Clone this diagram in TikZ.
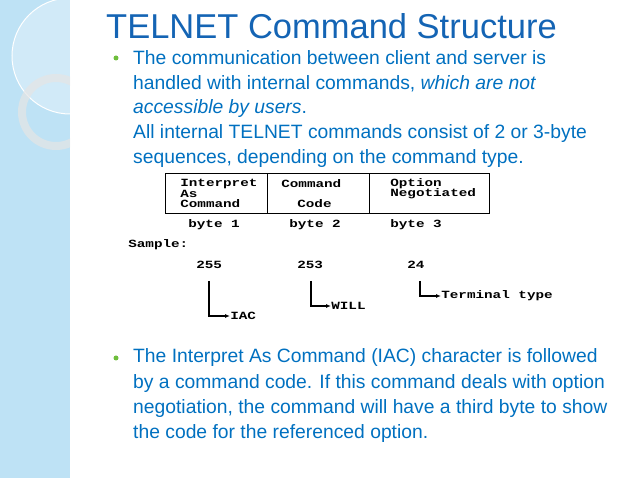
\documentclass[tikz,border=0pt]{standalone}
\usepackage{fontspec}
\setmainfont{Liberation Sans}
\newfontfamily\mono{Liberation Mono}
\usetikzlibrary{arrows.meta}
\definecolor{tblue}{RGB}{20,100,180}
\definecolor{bodyc}{RGB}{0,112,192}
\definecolor{side}{RGB}{190,226,245}
\definecolor{bgreen}{RGB}{110,190,60}
\tikzset{x=1pt,y=-1pt,
 body/.style={anchor=west,inner sep=0,text=bodyc,font=\fontsize{19.3}{22}\selectfont},
 mn/.style={inner sep=0,xscale=1.3,font=\mono\bfseries\fontsize{11}{11}\selectfont},
 conn/.style={line width=1.1pt,-{Latex[length=5pt,width=4pt]}},
 bul/.style={circle,fill=bgreen,inner sep=0,minimum size=5pt}}
\begin{document}
\begin{tikzpicture}
\useasboundingbox (0,0) rectangle (638,478);
\fill[side] (0,0) rectangle (70,478);
\begin{scope}
\clip (0,0) rectangle (70,478);
\fill[white,opacity=0.3] (70,56) circle (58);
\draw[white,line width=1pt] (70,56) circle (58);
\draw[white!80!gray,opacity=0.7,line width=8pt] (56,112) circle (34);
\end{scope}
\node[anchor=west,inner sep=0,text=tblue,font=\fontsize{34.5}{36}\selectfont] (title) at (106,26) {TELNET Command Structure};
\node[bul] (b1) at (116,58) {};
\node[body] (l1) at (133,58) {The communication between client and server is};
\node[body] (l2) at (133,84) {handled with internal commands, \textit{which are not}};
\node[body] (l3) at (133,109) {\textit{accessible by users}.};
\node[body] (l4) at (133,134) {All internal TELNET commands consist of 2 or 3-byte};
\node[body] (l5) at (133,159) {sequences, depending on the command type.};
\draw[line width=1pt] (165,174) rectangle (489,214);
\draw[line width=1pt] (267,174) -- (267,214) (369,174) -- (369,214);
\node[mn,anchor=west] (i1) at (180,184) {Interpret};
\node[mn,anchor=west] (i2) at (180,194) {As};
\node[mn,anchor=west] (i3) at (180,204) {Command};
\node[mn,anchor=west] (c1) at (281,184) {Command};
\node[mn,anchor=west] (c2) at (297,204) {Code};
\node[mn,anchor=west] (o1) at (390,184) {Option};
\node[mn,anchor=west] (o2) at (390,194) {Negotiated};
\node[mn,anchor=west] (y1) at (188,225) {byte 1};
\node[mn,anchor=west] (y2) at (289,225) {byte 2};
\node[mn,anchor=west] (y3) at (390,225) {byte 3};
\node[mn,anchor=west] (s) at (128,245) {Sample:};
\node[mn,anchor=west] (n1) at (196,265) {255};
\node[mn,anchor=west] (n2) at (297,265) {253};
\node[mn,anchor=west] (n3) at (407,265) {24};
\node[mn,anchor=west] (t1) at (230,316) {IAC};
\node[mn,anchor=west] (t2) at (331,306) {WILL};
\node[mn,anchor=west] (t3) at (441,296) {Terminal type};
\coordinate (p1) at (209,281); \coordinate (p2) at (311,281); \coordinate (p3) at (420,281);
\draw[conn] (p1) |- (t1.west);
\draw[conn] (p2) |- (t2.west);
\draw[conn] (p3) |- (t3.west);
\node[bul] (b2) at (116,358) {};
\node[body] (m1) at (133,358) {The Interpret As Command (IAC) character is followed};
\node[body] (m2) at (133,384) {by a command code. If this command deals with option};
\node[body] (m3) at (133,409) {negotiation, the command will have a third byte to show};
\node[body] (m4) at (133,434) {the code for the referenced option.};
\end{tikzpicture}
\end{document}
